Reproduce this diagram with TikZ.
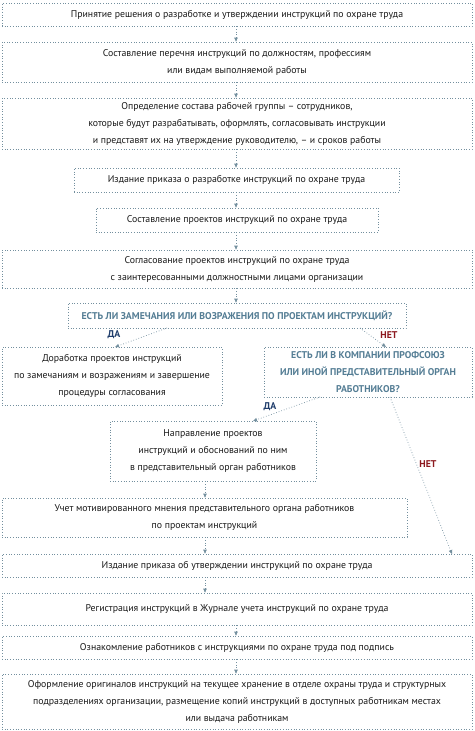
\documentclass[tikz,border=0pt]{standalone}
\usepackage{fontspec}
\setmainfont{PT Sans}
\usetikzlibrary{arrows.meta}
\definecolor{dotc}{rgb}{0.45,0.56,0.62}
\definecolor{qc}{rgb}{0.33,0.49,0.58}
\definecolor{dac}{rgb}{0.12,0.24,0.42}
\definecolor{netc}{rgb}{0.55,0.10,0.12}
\definecolor{txt}{rgb}{0.1,0.1,0.1}
\tikzset{
  bx/.style={draw=dotc, line width=0.7pt, dash pattern=on 0.7pt off 2pt, inner sep=0pt, align=center, text=txt, font=\fontsize{9.8}{17}\selectfont},
  qbx/.style={bx, text=qc, font=\fontsize{9.8}{17}\selectfont\bfseries},
  arr/.style={draw=dotc, line width=0.7pt, dash pattern=on 0.7pt off 2pt, -{Triangle[length=4pt,width=3.5pt,fill=dotc]}},
  lda/.style={text=dac, font=\fontsize{9.8}{11}\selectfont\bfseries, inner sep=0pt},
  lnet/.style={text=netc, font=\fontsize{9.8}{11}\selectfont\bfseries, inner sep=0pt}
}
\newcommand{\bxnode}[6]{\node[#1, minimum width={(#4-#2)*1pt}, minimum height={(#5-#3)*1pt}] (#6) at ({(#2+#4)/2}, {(#3+#5)/2})}
\begin{document}
\begin{tikzpicture}[x=1pt,y=-1pt]
\useasboundingbox (0,0) rectangle (474,731);
\bxnode{bx}{2}{3}{472}{26}{b1} {Принятие решения о разработке и утверждении инструкций по охране труда};
\bxnode{bx}{2}{42}{472}{82}{b2} {Составление перечня инструкций по должностям, профессиям\\или видам выполняемой работы};
\bxnode{bx}{2}{98}{472}{149}{b3} {Определение состава рабочей группы – сотрудников,\\которые будут разрабатывать, оформлять, согласовывать инструкции\\и представят их на утверждение руководителю, – и сроков работы};
\bxnode{bx}{74}{168}{399}{192}{b4} {Издание приказа о разработке инструкций по охране труда};
\bxnode{bx}{96}{208}{378}{232}{b5} {Составление проектов инструкций по охране труда};
\bxnode{bx}{2}{250}{472}{288}{b6} {Согласование проектов инструкций по охране труда\\с заинтересованными должностными лицами организации};
\bxnode{qbx}{68}{303}{406}{328}{b7} {ЕСТЬ ЛИ ЗАМЕЧАНИЯ ИЛИ ВОЗРАЖЕНИЯ ПО ПРОЕКТАМ ИНСТРУКЦИЙ?};
\bxnode{bx}{2}{347}{222}{405}{b8} {Доработка проектов инструкций\\по замечаниям и возражениям и завершение\\процедуры согласования};
\bxnode{qbx}{264}{347}{472}{397}{b9} {ЕСТЬ ЛИ В КОМПАНИИ ПРОФСОЮЗ\\ИЛИ ИНОЙ ПРЕДСТАВИТЕЛЬНЫЙ ОРГАН\\РАБОТНИКОВ?};
\bxnode{bx}{110}{421}{316}{481}{b10} {Направление проектов\\инструкций и обоснований по ним\\в представительный орган работников};
\bxnode{bx}{2}{498}{407}{537}{b11} {Учет мотивированного мнения представительного органа работников\\по проектам инструкций};
\bxnode{bx}{2}{554}{472}{577}{b12} {Издание приказа об утверждении инструкций по охране труда};
\bxnode{bx}{2}{593}{472}{625}{b13} {Регистрация инструкций в Журнале учета инструкций по охране труда};
\bxnode{bx}{2}{636}{472}{659}{b14} {Ознакомление работников с инструкциями по охране труда под подпись};
\bxnode{bx}{2}{674}{472}{729}{b15} {Оформление оригиналов инструкций на текущее хранение в отделе охраны труда и структурных\\подразделениях организации, размещение копий инструкций в доступных работникам местах\\или выдача работникам};
% vertical connectors
\coordinate (cx) at (236,0);
\coordinate (cy) at (205,0);
\draw[arr] (b1.south -| cx) -- (b2.north -| cx);
\draw[arr] (b2.south -| cx) -- (b3.north -| cx);
\draw[arr] (b3.south -| cx) -- (b4.north -| cx);
\draw[arr] (b4.south -| cx) -- (b5.north -| cx);
\draw[arr] (b5.south -| cx) -- (b6.north -| cx);
\draw[arr] (b6.south -| cx) -- (b7.north -| cx);
\draw[arr] (b10.south -| cy) -- (b11.north -| cy);
\draw[arr] (b11.south -| cy) -- (b12.north -| cy);
\draw[arr] (b12.south -| cy) -- (b13.north -| cy);
\draw[arr] (b13.south -| cx) -- (b14.north -| cx);
\draw[arr] (b14.south -| cx) -- (b15.north -| cx);
% decision connectors
\coordinate (d1s) at (167,328); \coordinate (d1e) at (115,347);
\coordinate (n1s) at (360,328); \coordinate (n1e) at (386,347);
\coordinate (d2s) at (320,397); \coordinate (d2e) at (253,421);
\coordinate (n2s) at (390,397); \coordinate (n2e) at (452,554);
\draw[arr] (d1s) -- (d1e);
\draw[arr] (n1s) -- (n1e);
\draw[arr] (d2s) -- (d2e);
\draw[arr] (n2s) -- (n2e);
\node[lda] (l1) at (114,335) {ДА};
\node[lnet] (l2) at (389,335) {НЕТ};
\node[lda] (l3) at (270,407) {ДА};
\node[lnet] (l4) at (428,464) {НЕТ};
\end{tikzpicture}
\end{document}
